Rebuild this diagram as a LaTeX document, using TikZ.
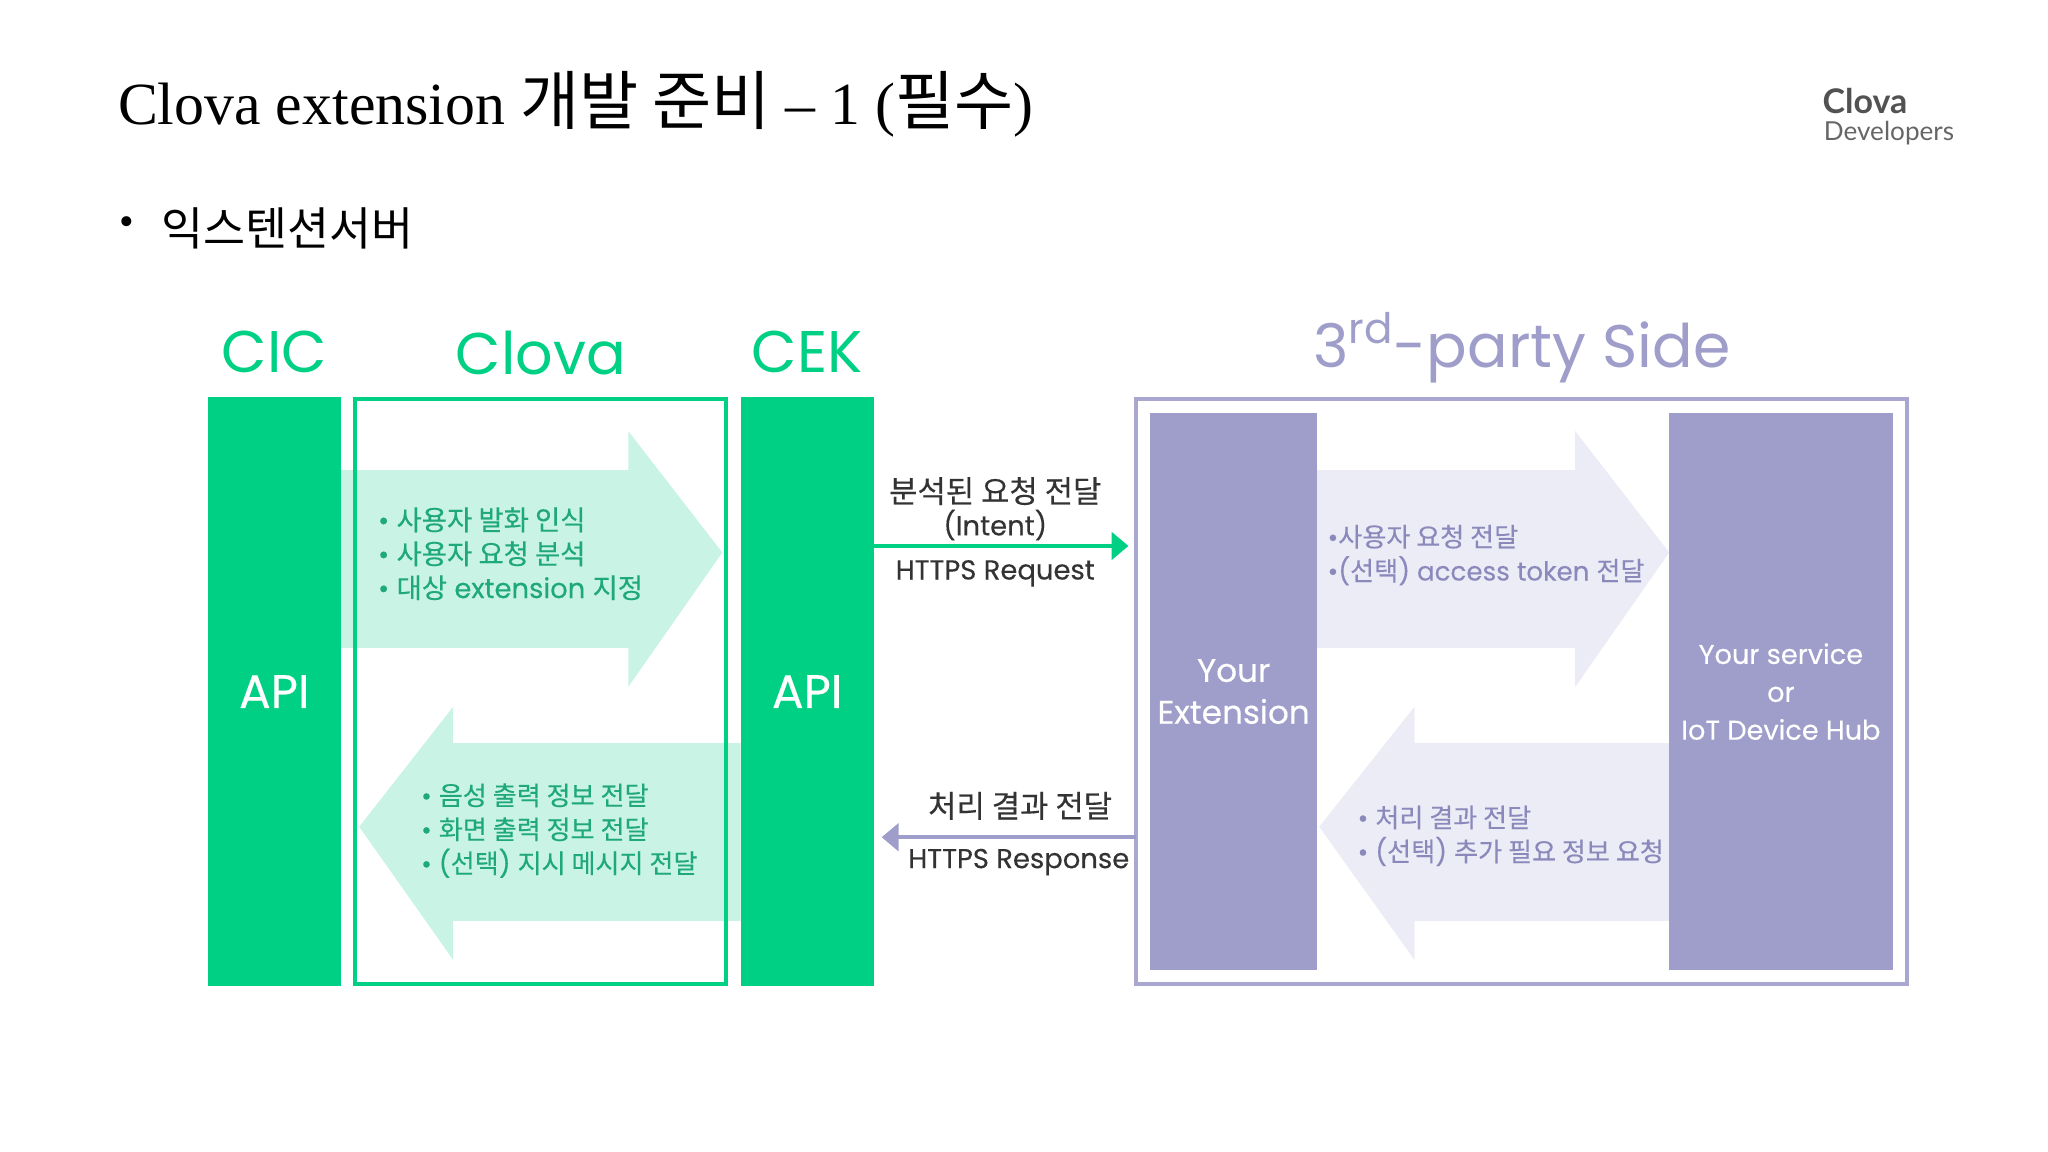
\documentclass[tikz,border=0pt]{standalone}
\usepackage{fontspec}
\setmainfont{Liberation Serif}
\newfontfamily\kr{Noto Sans CJK KR}
\newfontfamily\krm[FakeBold=0.35]{Noto Sans CJK KR}
\newfontfamily\dgm{Poppins}
\newfontfamily\dgmm[FakeBold=0.25]{Poppins}
\newfontfamily\lato{Lato}
\usepackage{xcolor}
\usetikzlibrary{positioning,arrows.meta}

\definecolor{clovagreen}{HTML}{00D084}
\definecolor{palegreen}{HTML}{C9F4E5}
\definecolor{listgreen}{HTML}{1FA87A}
\definecolor{sidepurple}{HTML}{9F9DCA}
\definecolor{palepurple}{HTML}{ECECF6}
\definecolor{listpurple}{HTML}{8B89BC}
\definecolor{labeldark}{HTML}{333333}

\tikzset{
    greenbar/.style={rectangle, fill=clovagreen, text=white, minimum width=51pt, minimum height=225.5pt, inner sep=0pt, outer sep=0pt, font=\dgmm\fontsize{18}{20}\selectfont},
    purplebar/.style={rectangle, fill=sidepurple, text=white, inner sep=0pt, outer sep=0pt, align=center, minimum height=213.5pt},
    framed/.style={rectangle, draw, line width=1.5pt, inner sep=0pt, outer sep=0pt},
    heading/.style={inner sep=0pt, font=\dgm\fontsize{22.5}{28}\selectfont},
    listtext/.style={inner sep=0pt, anchor=west, align=left, font=\dgmm\fontsize{10.5}{13}\selectfont},
    listsmall/.style={listtext, font=\dgmm\fontsize{10}{13}\selectfont},
    midlabel/.style={inner sep=0pt, text=labeldark, font=\dgmm\fontsize{10.5}{13}\selectfont},
    midkorean/.style={inner sep=0pt, text=labeldark, font=\krm\fontsize{11.8}{13}\selectfont},
}

\begin{document}
\begin{tikzpicture}[x=0.5pt,y=-0.5pt]
    \useasboundingbox (0,0) rectangle (1568,882);

    % big arrows go under the bars
    \fill[palegreen] (261,360) -- (481,360) -- (481,330) -- (553,423) -- (481,526) -- (481,496) -- (261,496) -- cycle;
    \fill[palegreen] (567,569) -- (347,569) -- (347,541) -- (275,633) -- (347,735) -- (347,705) -- (567,705) -- cycle;
    \fill[palepurple] (1008,360) -- (1206,360) -- (1206,330) -- (1278,423) -- (1206,526) -- (1206,496) -- (1008,496) -- cycle;
    \fill[palepurple] (1278,569) -- (1083,569) -- (1083,541) -- (1010,633) -- (1083,735) -- (1083,705) -- (1278,705) -- cycle;

    \node(cicbar) [greenbar] at (210,529.5){API};
    \node(clovabox) [framed, draw=clovagreen, minimum width=142pt, minimum height=224pt] at (414,529.5){};
    \node(cekbar) [greenbar] at (618,529.5){API};
    \node(partybox) [framed, draw=sidepurple!90!white, minimum width=295pt, minimum height=224pt] at (1165,529.5){};

    \node(extbar) [purplebar, minimum width=64pt, font=\dgmm\fontsize{12.5}{16}\selectfont] at (944.5,529.5){Your\\Extension};
    \node(servicebar) [purplebar, minimum width=85.5pt, font=\dgmm\fontsize{10.4}{14.5}\selectfont] at (1363.5,529.5){Your service\\or\\IoT Device Hub};

    \node(cichead) [heading, text=clovagreen, above=9pt of cicbar]{CIC};
    \node(clovahead) [heading, text=clovagreen, above=9pt of clovabox]{Clova};
    \node(cekhead) [heading, text=clovagreen, above=9pt of cekbar]{CEK};
    \node(partyhead) [heading, text=sidepurple, font=\dgm\fontsize{23}{28}\selectfont, above=6pt of partybox]{3\textsuperscript{rd}-party Side};

    \coordinate (requesty) at (0,418);
    \coordinate (responsey) at (0,641);
    \draw[clovagreen, line width=1.5pt, -{Triangle[length=6.5pt,width=10.5pt]}] (cekbar.east |- requesty) -- ([xshift=-3pt]partybox.west |- requesty);
    \draw[sidepurple, line width=1.5pt, -{Triangle[length=6.5pt,width=10.5pt]}] (partybox.west |- responsey) -- ([xshift=3pt]cekbar.east |- responsey);

    \node(requestkr) [midkorean] at (762,376){분석된 요청 전달};
    \node(intent) [midlabel] at (762,402){(Intent)};
    \node(request) [midlabel] at (762,439){HTTPS Request};
    \node(resultkr) [midkorean] at (781,617){처리 결과 전달};
    \node(response) [midlabel] at (780,660){HTTPS Response};

    \node(greenup) [listtext, text=listgreen] at (289,424){
        • {\krm 사용자 발화 인식}\\
        • {\krm 사용자 요청 분석}\\
        • {\krm 대상} extension {\krm 지정}
    };
    \node(greendown) [listsmall, text=listgreen] at (322,636){
        • {\krm 음성 출력 정보 전달}\\
        • {\krm 화면 출력 정보 전달}\\
        • ({\krm 선택}) {\krm 지시 메시지 전달}
    };
    \node(purpleup) [listsmall, text=listpurple] at (1016,425){
        •{\krm 사용자 요청 전달}\\
        •({\krm 선택}) access token {\krm 전달}
    };
    \node(purpledown) [listsmall, text=listpurple] at (1039,640){
        • {\krm 처리 결과 전달}\\
        • ({\krm 선택}) {\krm 추가 필요 정보 요청}
    };

    \node(title) [inner sep=0pt, anchor=base west, font=\fontsize{22.9}{28}\selectfont] at (90,95){Clova extension {\kr\fontsize{24.6}{28}\selectfont 개발 준비} – 1 ({\kr\fontsize{24.6}{28}\selectfont 필수})};
    \node(dot) [inner sep=0pt, font=\fontsize{16}{20}\selectfont] at (97,173){•};
    \node(server) [inner sep=0pt, anchor=west, font=\kr\fontsize{17.5}{20}\selectfont] at (123,175){익스텐션서버};

    \node(logotop) [inner sep=0pt, anchor=west, text=black!68, font=\lato\bfseries\fontsize{13}{14}\selectfont] at (1395,77){Clova};
    \node(logobottom) [inner sep=0pt, anchor=west, text=black!60, font=\lato\fontsize{10}{14}\selectfont] at (1396,102){Developers};
\end{tikzpicture}
\end{document}
